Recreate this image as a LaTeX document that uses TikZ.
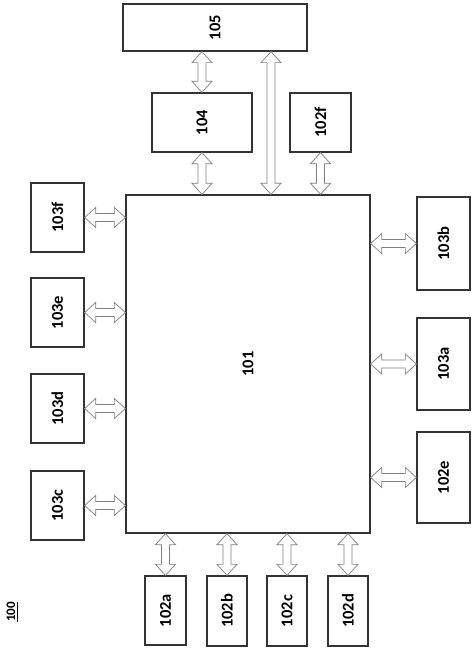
\documentclass[tikz,border=0pt]{standalone}
\usepackage{fontspec}
\setmainfont{Carlito}
\usetikzlibrary{calc}
\tikzset{
  box/.style={draw=black!80, line width=1.3bp, fill=white, rectangle, inner sep=0pt,
    font=\fontsize{16.5bp}{18bp}\selectfont\bfseries},
  arr/.style={draw=black!50, line width=0.7bp, fill=white, line join=miter},
}
\newcommand\varrow[2]{% vertical block double arrow between two points
  \draw[arr] let \p1=(#1), \p2=(#2) in
   (\x1,\y1) -- (\x1+10bp,\y1-11bp) -- (\x1+4bp,\y1-11bp) -- (\x1+4bp,\y2+11bp)
   -- (\x1+10bp,\y2+11bp) -- (\x1,\y2) -- (\x1-10bp,\y2+11bp) -- (\x1-4bp,\y2+11bp)
   -- (\x1-4bp,\y1-11bp) -- (\x1-10bp,\y1-11bp) -- cycle;}
\newcommand\harrow[2]{% horizontal block double arrow, #1 left, #2 right
  \draw[arr] let \p1=(#1), \p2=(#2) in
   (\x1,\y1) -- (\x1+11bp,\y1+10bp) -- (\x1+11bp,\y1+4bp) -- (\x2-11bp,\y1+4bp)
   -- (\x2-11bp,\y1+10bp) -- (\x2,\y1) -- (\x2-11bp,\y1-10bp) -- (\x2-11bp,\y1-4bp)
   -- (\x1+11bp,\y1-4bp) -- (\x1+11bp,\y1-10bp) -- cycle;}
\begin{document}
\begin{tikzpicture}[x=1bp,y=-1bp]
\useasboundingbox[fill=white] (0,0) rectangle (474,650);

\node[box, minimum width=184bp, minimum height=47bp] (n105) at (215,27.5) {\rotatebox{90}{105}};
\node[box, minimum width=100bp, minimum height=59bp] (n104) at (202,122.5) {\rotatebox{90}{104}};
\node[box, minimum width=61bp, minimum height=59bp] (n102f) at (320.5,122.5) {\rotatebox{90}{102f}};
\node[box, minimum width=244bp, minimum height=338bp] (n101) at (248,364) {\rotatebox{90}{101}};

\node[box, minimum width=53bp, minimum height=69bp] (n103f) at (57.5,217.5) {\rotatebox{90}{103f}};
\node[box, minimum width=53bp, minimum height=69bp] (n103e) at (57.5,312.5) {\rotatebox{90}{103e}};
\node[box, minimum width=53bp, minimum height=69bp] (n103d) at (57.5,408.5) {\rotatebox{90}{103d}};
\node[box, minimum width=53bp, minimum height=69bp] (n103c) at (57.5,505.5) {\rotatebox{90}{103c}};

\node[box, minimum width=53bp, minimum height=93bp] (n103b) at (443.5,243.5) {\rotatebox{90}{103b}};
\node[box, minimum width=53bp, minimum height=92bp] (n103a) at (443.5,364) {\rotatebox{90}{103a}};
\node[box, minimum width=53bp, minimum height=91bp] (n102e) at (443.5,477.5) {\rotatebox{90}{102e}};

\node[box, minimum width=41bp, minimum height=69bp] (n102a) at (165.5,610.5) {\rotatebox{90}{102a}};
\node[box, minimum width=40bp, minimum height=70bp] (n102b) at (227,611) {\rotatebox{90}{102b}};
\node[box, minimum width=40bp, minimum height=70bp] (n102c) at (287,611) {\rotatebox{90}{102c}};
\node[box, minimum width=40bp, minimum height=70bp] (n102d) at (348,611) {\rotatebox{90}{102d}};

\node[font=\fontsize{13bp}{15bp}\selectfont\bfseries, inner sep=0pt] (n100) at (12,612) {\rotatebox{90}{\underline{100}}};

\coordinate (bus) at (271,0);

% top arrows
\varrow{n105.south -| n104.north}{n104.north}
\varrow{n104.south}{n101.north -| n104.south}
\varrow{n105.south -| bus}{n101.north -| bus}
\varrow{n102f.south}{n101.north -| n102f.south}

% left arrows
\harrow{n103f.east}{n101.west |- n103f.east}
\harrow{n103e.east}{n101.west |- n103e.east}
\harrow{n103d.east}{n101.west |- n103d.east}
\harrow{n103c.east}{n101.west |- n103c.east}

% right arrows
\harrow{n101.east |- n103b.west}{n103b.west}
\harrow{n101.east |- n103a.west}{n103a.west}
\harrow{n101.east |- n102e.west}{n102e.west}

% bottom arrows
\varrow{n101.south -| n102a.north}{n102a.north}
\varrow{n101.south -| n102b.north}{n102b.north}
\varrow{n101.south -| n102c.north}{n102c.north}
\varrow{n101.south -| n102d.north}{n102d.north}
\end{tikzpicture}
\end{document}
